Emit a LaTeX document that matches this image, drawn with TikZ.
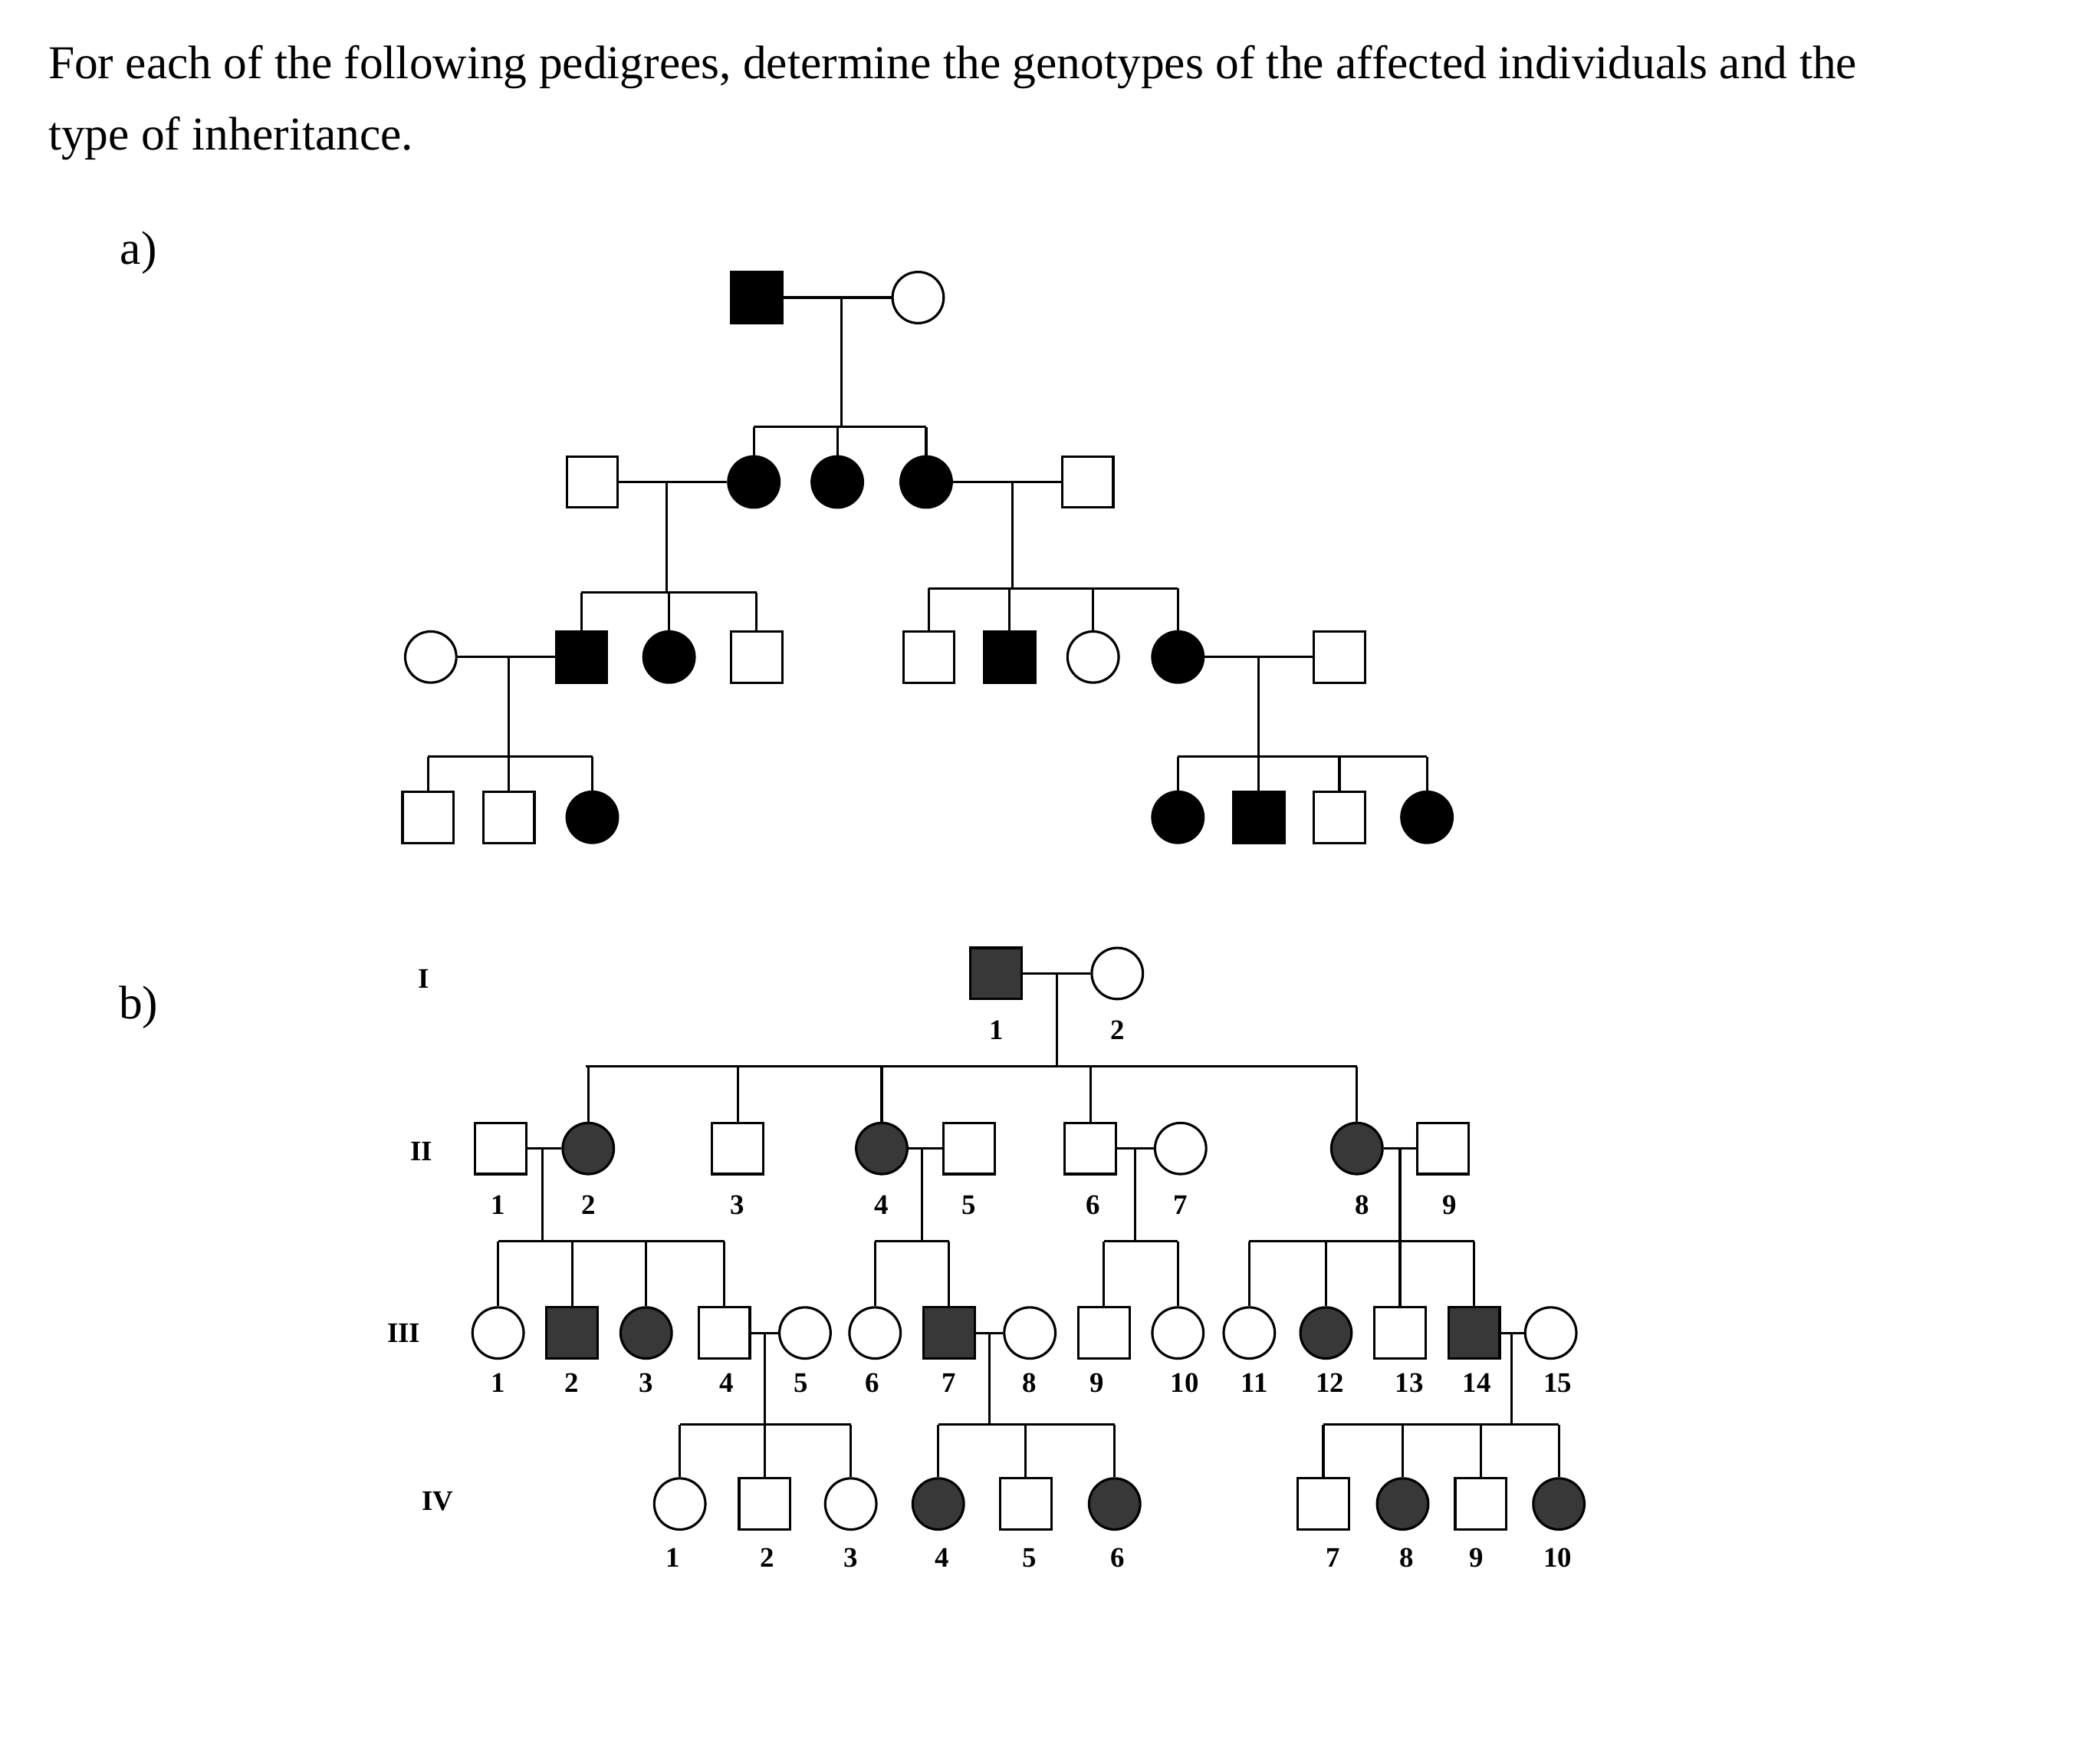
\documentclass[tikz,border=0pt]{standalone}
\usepackage{fontspec}
\setmainfont{Liberation Serif}
\begin{document}
\begin{tikzpicture}[x=0.5pt,y=-0.5pt,line width=0.9pt,
 sq/.style={draw,rectangle,minimum size=19pt,inner sep=0pt},
 ci/.style={draw,circle,minimum size=19pt,inner sep=0pt},
 fa/.style={fill=black},
 fb/.style={fill=black!78},
 lab/.style={font=\fontsize{10.5}{12}\selectfont\bfseries,inner sep=0pt},
 gen/.style={font=\fontsize{10.5}{12}\selectfont\bfseries,inner sep=0pt}]
\useasboundingbox (0,0) rectangle (1560,1309);
\node[anchor=west,inner sep=0pt,font=\fontsize{17.5}{25}\selectfont] (t1) at (35,50) {For each of the following pedigrees, determine the genotypes of the affected individuals and the};
\node[anchor=west,inner sep=0pt,font=\fontsize{17.5}{25}\selectfont] (t2) at (35,103) {type of inheritance.};
\node[inner sep=0pt,font=\fontsize{17.5}{25}\selectfont] (la) at (103,188) {a)};
\node[inner sep=0pt,font=\fontsize{17.5}{25}\selectfont] (lb) at (103,748) {b)};
% ---- a)
\node[sq,fa] (a1) at (562,221) {};
\node[ci] (a2) at (682,221) {};
\draw (a1) -- (a2);
\coordinate (am1) at (625,221);
\draw (am1) -- (625,317);
\draw (560,317) -- (688,317);
\node[sq] (b0) at (440,358) {};
\node[ci,fa] (b1) at (560,358) {};
\node[ci,fa] (b2) at (622,358) {};
\node[ci,fa] (b3) at (688,358) {};
\node[sq] (b4) at (808,358) {};
\foreach \n in {b1,b2,b3} \draw (\n.north) -- (\n.north|-0,317);
\draw (b0) -- (b1); \draw (b3) -- (b4);
\draw (495,358) -- (495,440); \draw (752,358) -- (752,437);
\draw (432,440) -- (562,440);
\node[ci] (c0) at (320,488) {};
\node[sq,fa] (c1) at (432,488) {};
\node[ci,fa] (c2) at (497,488) {};
\node[sq] (c3) at (562,488) {};
\foreach \n in {c1,c2,c3} \draw (\n.north) -- (\n.north|-0,440);
\draw (c0) -- (c1);
\draw (378,488) -- (378,562);
\draw (318,562) -- (440,562);
\node[sq] (d1) at (318,607) {};
\node[sq] (d2) at (378,607) {};
\node[ci,fa] (d3) at (440,607) {};
\foreach \n in {d1,d2,d3} \draw (\n.north) -- (\n.north|-0,562);
\draw (690,437) -- (875,437);
\node[sq] (c4) at (690,488) {};
\node[sq,fa] (c5) at (750,488) {};
\node[ci] (c6) at (812,488) {};
\node[ci,fa] (c7) at (875,488) {};
\node[sq] (c8) at (995,488) {};
\foreach \n in {c4,c5,c6,c7} \draw (\n.north) -- (\n.north|-0,437);
\draw (c7) -- (c8);
\draw (935,488) -- (935,562);
\draw (875,562) -- (1060,562);
\node[ci,fa] (d4) at (875,607) {};
\node[sq,fa] (d5) at (935,607) {};
\node[sq] (d6) at (995,607) {};
\node[ci,fa] (d7) at (1060,607) {};
\foreach \n in {d4,d5,d6,d7} \draw (\n.north) -- (\n.north|-0,562);
% ---- b)
\node[gen] (gI) at (315,727) {I};
\node[gen] (gII) at (313,855) {II};
\node[gen] (gIII) at (300,990) {III};
\node[gen] (gIV) at (325,1115) {IV};
\node[sq,fb] (I1) at (740,723) {};
\node[ci] (I2) at (830,723) {};
\draw (I1) -- (I2);
\draw (785,723) -- (785,792);
\node[lab] at (740,765) {1}; \node[lab] at (830,765) {2};
\draw (435,792) -- (1008,792);
\node[sq] (II1) at (372,853) {};
\node[ci,fb] (II2) at (437,853) {};
\node[sq] (II3) at (548,853) {};
\node[ci,fb] (II4) at (655,853) {};
\node[sq] (II5) at (720,853) {};
\node[sq] (II6) at (810,853) {};
\node[ci] (II7) at (877,853) {};
\node[ci,fb] (II8) at (1008,853) {};
\node[sq] (II9) at (1072,853) {};
\foreach \n in {II2,II3,II4,II6,II8} \draw (\n.north) -- (\n.north|-0,792);
\draw (II1) -- (II2); \draw (II4) -- (II5); \draw (II6) -- (II7); \draw (II8) -- (II9);
\foreach \x/\l in {370/1,437/2,548/3,655/4,720/5,812/6,877/7,1012/8,1077/9} \node[lab] at (\x,895) {\l};
\draw (403,853) -- (403,922); \draw (685,853) -- (685,922);
\draw (843,853) -- (843,922); \draw (1040,853) -- (1040,922);
\draw (370,922) -- (538,922); \draw (650,922) -- (705,922);
\draw (820,922) -- (875,922); \draw (928,922) -- (1095,922);
\node[ci] (III1) at (370,990) {};
\node[sq,fb] (III2) at (425,990) {};
\node[ci,fb] (III3) at (480,990) {};
\node[sq] (III4) at (538,990) {};
\node[ci] (III5) at (598,990) {};
\node[ci] (III6) at (650,990) {};
\node[sq,fb] (III7) at (705,990) {};
\node[ci] (III8) at (765,990) {};
\node[sq] (III9) at (820,990) {};
\node[ci] (III10) at (875,990) {};
\node[ci] (III11) at (928,990) {};
\node[ci,fb] (III12) at (985,990) {};
\node[sq] (III13) at (1040,990) {};
\node[sq,fb] (III14) at (1095,990) {};
\node[ci] (III15) at (1152,990) {};
\foreach \n in {III1,III2,III3,III4,III6,III7,III9,III10,III11,III12,III13,III14} \draw (\n.north) -- (\n.north|-0,922);
\draw (III4) -- (III5); \draw (III7) -- (III8); \draw (III14) -- (III15);
\foreach \x/\l in {370/1,425/2,480/3,540/4,595/5,648/6,705/7,765/8,815/9,880/10,932/11,988/12,1047/13,1097/14,1157/15} \node[lab] at (\x,1027) {\l};
\draw (568,990) -- (568,1058); \draw (735,990) -- (735,1058); \draw (1123,990) -- (1123,1058);
\draw (505,1058) -- (632,1058); \draw (697,1058) -- (828,1058); \draw (983,1058) -- (1158,1058);
\node[ci] (IV1) at (505,1117) {};
\node[sq] (IV2) at (568,1117) {};
\node[ci] (IV3) at (632,1117) {};
\node[ci,fb] (IV4) at (697,1117) {};
\node[sq] (IV5) at (762,1117) {};
\node[ci,fb] (IV6) at (828,1117) {};
\node[sq] (IV7) at (983,1117) {};
\node[ci,fb] (IV8) at (1042,1117) {};
\node[sq] (IV9) at (1100,1117) {};
\node[ci,fb] (IV10) at (1158,1117) {};
\foreach \n in {IV1,IV2,IV3,IV4,IV5,IV6,IV7,IV8,IV9,IV10} \draw (\n.north) -- (\n.north|-0,1058);
\foreach \x/\l in {500/1,570/2,632/3,700/4,765/5,830/6,990/7,1045/8,1097/9,1157/10} \node[lab] at (\x,1157) {\l};
\end{tikzpicture}
\end{document}
